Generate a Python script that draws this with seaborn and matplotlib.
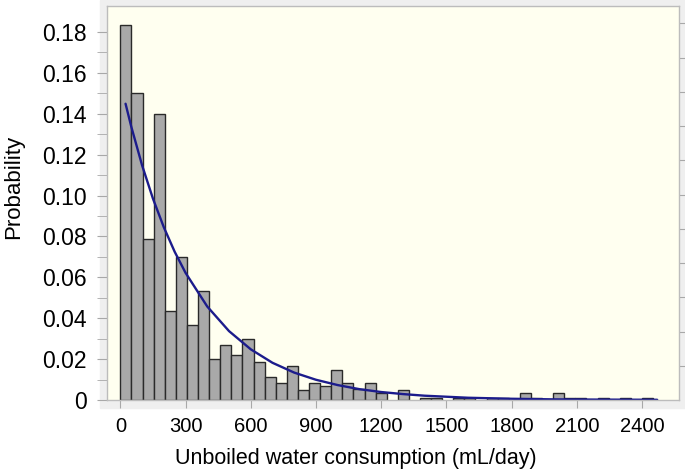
import numpy as np
import pandas as pd
import seaborn as sns
import matplotlib
matplotlib.use('Agg')
import matplotlib.pyplot as plt
from matplotlib.patches import Rectangle

# histogram: probability per bin (48 bins, 0 .. ~2450 mL/day)
probability = [0.1835, 0.150, 0.0786, 0.140, 0.0434, 0.070, 0.0367, 0.0533,
               0.020, 0.0268, 0.0219, 0.0299, 0.0185, 0.0113, 0.0084, 0.0168,
               0.0048, 0.0084, 0.0068, 0.0149, 0.0084, 0.0055, 0.0084, 0.0034,
               0.0, 0.0048, 0.0, 0.0011, 0.0011, 0.0, 0.0011, 0.0011,
               0.0, 0.0011, 0.0011, 0.0, 0.0034, 0.0011, 0.0, 0.0034,
               0.0011, 0.0011, 0.0, 0.0011, 0.0, 0.0011, 0.0, 0.0011]

# fitted curve
curve_x = [24, 50, 100, 150, 200, 250, 300, 400, 500, 600, 700, 800, 900,
           1000, 1100, 1200, 1300, 1400, 1500, 1600, 1800, 2000, 2200, 2470]
curve_y = [0.1449, 0.1338, 0.1148, 0.0985, 0.0845, 0.0725, 0.0622, 0.0457,
           0.0337, 0.0248, 0.0182, 0.0134, 0.0099, 0.0073, 0.0053, 0.0039,
           0.0029, 0.0021, 0.0016, 0.0011, 0.0006, 0.0003, 0.0002, 0.0001]

x_ticks = [0, 300, 600, 900, 1200, 1500, 1800, 2100, 2400]
y_ticks = [0, 0.02, 0.04, 0.06, 0.08, 0.10, 0.12, 0.14, 0.16, 0.18]
y_ticklabels = ['0', '0.02', '0.04', '0.06', '0.08', '0.10', '0.12', '0.14', '0.16', '0.18']

bin_w = 2400 / 47
n_bins = len(probability)
df = pd.DataFrame({'x': (np.arange(n_bins) + 0.5) * bin_w, 'p': probability})

sns.set_style('ticks')
plt.rcParams['font.family'] = ['Liberation Sans', 'DejaVu Sans']
plt.rcParams['text.color'] = 'black'
plt.rcParams['axes.labelcolor'] = 'black'
plt.rcParams['xtick.labelcolor'] = 'black'
plt.rcParams['ytick.labelcolor'] = 'black'

fig = plt.figure(figsize=(6.85, 4.73), dpi=100)
fig.patches.append(Rectangle((100 / 685, 65 / 473), 585 / 685, 408 / 473,
                             transform=fig.transFigure, color='#efefef', zorder=-10))
ax = fig.add_axes([107.3 / 685, 73 / 473, 571.4 / 685, 394 / 473])
ax.set_facecolor('#fffff0')

sns.histplot(data=df, x='x', weights='p', binwidth=bin_w, binrange=(0, n_bins * bin_w),
             color='#a9a9a9', edgecolor='#2a2a2a', linewidth=1, alpha=1, ax=ax)
for p in ax.patches:
    if p.get_height() == 0:
        p.set_visible(False)
sns.lineplot(x=curve_x, y=curve_y, color='#1c1c8c', lw=1.7, ax=ax)

ax.set_xlim(-60, 2569)
ax.set_ylim(0.0005, 0.1927)
ax.set_xticks(x_ticks)
ax.set_xticklabels([str(v) for v in x_ticks], fontsize=14.5)
ax.set_yticks(y_ticks)
ax.set_yticklabels(y_ticklabels, fontsize=16.5)
ax.set_yticks(np.arange(0.01, 0.19, 0.02), minor=True)
ax.tick_params(axis='y', which='both', length=7, color='#a8a8a8', pad=8)
ax.tick_params(axis='x', length=6, color='#a8a8a8', pad=6)

for s in ax.spines.values():
    s.set_color('#bcbcbc')
    s.set_linewidth(1)
    s.set_visible(True)

# unlabelled ticks on the right edge
sec = ax.secondary_yaxis('right', functions=(lambda v: v / 0.01675, lambda v: v * 0.01675))
sec.set_yticks(range(1, 12))
sec.set_yticklabels([])
sec.tick_params(length=5, color='#a8a8a8')
sec.spines['right'].set_visible(False)

ax.set_xlabel('Unboiled water consumption (mL/day)', fontsize=15.5)
ax.set_ylabel('Probability', fontsize=16)
ax.xaxis.set_label_coords(0.435, -0.122)
ax.yaxis.set_label_coords(-0.146, 0.54)

fig.savefig('out.png', dpi=100)
